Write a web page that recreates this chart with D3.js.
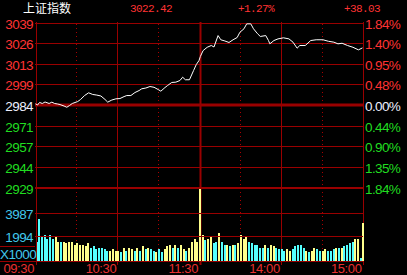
<!DOCTYPE html>
<html>
<head>
<meta charset="utf-8">
<script src="https://cdn.jsdelivr.net/npm/d3@7"></script>
<style>
  body { margin: 0; background: #000; }
  svg { display: block; }
</style>
</head>
<body>
<svg id="chart" width="407" height="275"></svg>
<script>
// 上证指数 分时图
let title = '上证指数'
let lastPrice = '3022.42'
let changePct = '+1.27%'
let changeVal = '+38.03'

let priceTicks = [3039.3, 3025.6, 3011.9, 2998.1, 2984.4, 2970.7, 2956.9, 2943.2, 2929.5]
let priceLabels = ['3039', '3026', '3013', '2999', '2984', '2971', '2957', '2944', '2929']
let pctLabels = ['1.84%', '1.40%', '0.95%', '0.48%', '0.00%', '0.44%', '0.90%', '1.35%', '1.84%']

let volTicks = [3987, 1994]
let volLabels = ['3987', '1994']

let timeLabels = ['09:30', '10:30', '11:30', '14:00', '15:00']
let timeMinutes = [0, 60, 120, 180, 240]
let solidMinutes = [0, 60, 120, 180, 240]
let dottedMinutes = [30, 90, 150, 210]

// minute index (0..240) and price
let priceMin = [0, 1.5, 3, 5, 7, 10, 12, 14, 16, 18, 21, 23, 25, 27, 31, 33, 36, 39, 42, 45,
  48, 51, 53, 56, 59, 62, 65, 67, 70, 73, 76, 78, 81, 84, 87, 90, 92, 95, 97, 100,
  103, 106, 108, 110, 113, 116, 118, 120, 121, 123, 126, 129, 131, 134, 136, 139, 142, 145, 148, 150,
  153, 155, 158, 160, 163, 165, 169, 171, 172, 175, 178, 182, 186, 189, 192, 194, 198, 202, 206, 211,
  215, 219, 222, 225, 229, 233, 237, 240]
let priceVal = [2985.2, 2984.4, 2986.1, 2985.4, 2986.4, 2985.4, 2986.3, 2985.4, 2985.1, 2984.7, 2983.7, 2982.9, 2984.1, 2985.4, 2986.7, 2988.0, 2990.7, 2992.5, 2991.4, 2991.0,
  2990.4, 2988.1, 2986.3, 2987.7, 2988.5, 2988.7, 2990.0, 2990.7, 2990.7, 2992.7, 2994.0, 2995.2, 2995.7, 2996.7, 2996.2, 2994.7, 2993.6, 2996.0, 2997.4, 2999.4,
  2999.6, 3000.7, 3002.9, 3001.2, 3001.2, 3007.3, 3011.3, 3014.0, 3016.7, 3020.6, 3022.8, 3024.0, 3023.0, 3030.6, 3027.8, 3027.0, 3026.0, 3027.8, 3029.3, 3032.8,
  3035.1, 3038.4, 3038.4, 3035.1, 3031.8, 3030.0, 3030.6, 3027.3, 3025.1, 3027.3, 3028.4, 3029.1, 3028.4, 3026.2, 3022.2, 3024.0, 3024.0, 3027.3, 3027.8, 3027.8,
  3026.8, 3026.2, 3025.1, 3025.5, 3024.0, 3022.8, 3021.1, 3022.4]

// volume per 2 minutes (x1000), u = up (yellow), d = down (cyan)
let volVal = [1660, 3490, 2000, 2240, 1910, 2160, 1830, 2000, 1660, 1580,
  1660, 1500, 1660, 1580, 1410, 1500, 1330, 1410, 1250, 1500,
  1160, 1250, 1000, 1080, 1160, 1000, 910, 910, 1000, 910,
  910, 830, 1080, 910, 1160, 1000, 910, 1080, 910, 1250,
  1000, 1160, 1000, 910, 830, 1000, 830, 1000, 1250, 1330,
  1160, 1330, 1160, 1330, 1000, 910, 1160, 1660, 1830, 1660,
  6150, 2160, 1750, 1830, 2000, 1500, 1660, 2330, 1660, 1330,
  1410, 1250, 1410, 1330, 1500, 2240, 1830, 2080, 1660, 1500,
  1410, 1330, 1160, 1160, 1330, 1160, 1330, 1250, 1080, 1000,
  1000, 910, 1000, 910, 1000, 1250, 1330, 1330, 1160, 910,
  830, 910, 1160, 1000, 910, 910, 1000, 910, 910, 1000,
  1080, 1160, 1080, 1250, 1410, 1500, 1660, 1830, 1910, 250,
  3160]
let volDir = 'ddddddd' + 'uu' + 'd' + 'uuuuuuuuuu' + 'ddddddd' + 'uuuu' + 'd' + 'u' + 'd' + 'uu' + 'd' +
  'u' + 'd' + 'u' + 'd' + 'u' + 'dd' + 'u' + 'dd' + 'uuu' + 'd' + 'u' + 'd' + 'uu' + 'd' + 'uuuuuu' +
  'd' + 'uu' + 'dd' + 'u' + 'dd' + 'u' + 'd' + 'u' + 'd' + 'uuuu' + 'dddddd' + 'u' + 'd' + 'uu' +
  'dddd' + 'uu' + 'ddddd' + 'u' + 'd' + 'uu' + 'dd' + 'uu' + 'ddd' + 'u' + 'd' + 'u' + 'dddd' + 'uu' + 'd' + 'u'

let RED = '#ff3333'
let GREEN = '#20dd20'
let CYAN = '#40c8ec'
let GRID = '#990000'
let FONT = '"Liberation Sans", Arial, sans-serif'
let MONO = '"Liberation Mono", "DejaVu Sans Mono", monospace'

let svg = d3.select('#chart')
svg.append('rect').attr('width', 407).attr('height', 275).attr('fill', '#000')

let x = d3.scaleLinear().domain([0, 240]).range([35.5, 362.5])
let yP = d3.scaleLinear().domain([2929.5, 3039.3]).range([187.5, 22.5])
let yV = d3.scaleLinear().domain([0, 3987]).range([261.5, 213.5])
let px = (v) => Math.round(v) + 0.5

// vertical grid
svg.selectAll('line.vs')
    .data(solidMinutes)
    .enter()
    .append('line')
    .attr('x1', (d) => px(x(d)) + (d === 120 ? 1 : 0))
    .attr('x2', (d) => px(x(d)) + (d === 120 ? 1 : 0))
    .attr('y1', 22)
    .attr('y2', 265)
    .attr('stroke', GRID)
    .attr('stroke-width', (d) => d === 120 ? 2 : 1)

svg.selectAll('line.vd')
    .data(dottedMinutes)
    .enter()
    .append('line')
    .attr('x1', (d) => px(x(d)))
    .attr('x2', (d) => px(x(d)))
    .attr('y1', 24)
    .attr('y2', 261)
    .attr('stroke', '#aa0000')
    .attr('stroke-dasharray', '1,3')

// volume bars
let volData = volVal.map((v, i) => ({ m: i * 2, v: v, dir: volDir[i] }))
svg.selectAll('rect.vol')
    .data(volData)
    .enter()
    .append('rect')
    .attr('x', (d) => Math.round(x(d.m)) - (d.m === 240 ? 1 : 0) + (d.m === 0 ? 1 : 0))
    .attr('width', 2)
    .attr('y', (d) => Math.round(yV(d.v)))
    .attr('height', (d) => 261 - Math.round(yV(d.v)))
    .attr('fill', (d) => d.dir === 'u' ? '#ffff8c' : '#55ffff')

// horizontal grid, price part
svg.selectAll('line.hp')
    .data(priceTicks)
    .enter()
    .append('line')
    .attr('x1', 35)
    .attr('x2', 363)
    .attr('y1', (d, i) => i === 4 || i === 8 ? Math.round(yP(d)) : px(yP(d)))
    .attr('y2', (d, i) => i === 4 || i === 8 ? Math.round(yP(d)) : px(yP(d)))
    .attr('stroke', GRID)
    .attr('stroke-width', (d, i) => i === 4 ? 3 : i === 8 ? 2 : 1)

// horizontal grid, volume part
svg.selectAll('line.hv')
    .data(volTicks)
    .enter()
    .append('line')
    .attr('x1', 35)
    .attr('x2', 363)
    .attr('y1', (d) => px(yV(d)) - 1)
    .attr('y2', (d) => px(yV(d)) - 1)
    .attr('stroke', GRID)

// bottom line and X1000 box
svg.append('line').attr('x1', 0).attr('x2', 363).attr('y1', 261.5).attr('y2', 261.5).attr('stroke', GRID)
svg.append('line').attr('x1', 0).attr('x2', 35).attr('y1', 246.5).attr('y2', 246.5).attr('stroke', GRID)

// price line
let line = d3.line()
    .x((d) => x(d[0]))
    .y((d) => yP(d[1]))
svg.append('path')
    .datum(priceMin.map((m, i) => [m, priceVal[i]]))
    .attr('d', line)
    .attr('fill', 'none')
    .attr('stroke', '#ffffff')
    .attr('stroke-width', 1)

// labels
let tickColor = (i) => i < 4 ? RED : i === 4 ? '#eef0ff' : GREEN

svg.selectAll('text.pl')
    .data(priceTicks)
    .enter()
    .append('text')
    .attr('x', 33)
    .attr('y', (d) => yP(d) + 6)
    .attr('text-anchor', 'end')
    .attr('font-family', FONT)
    .attr('font-size', 13.5)
    .attr('letter-spacing', -0.6)
    .attr('fill', (d, i) => tickColor(i))
    .text((d, i) => priceLabels[i])

svg.selectAll('text.pr')
    .data(priceTicks)
    .enter()
    .append('text')
    .attr('x', 365)
    .attr('y', (d) => yP(d) + 6)
    .attr('font-family', FONT)
    .attr('font-size', 13.5)
    .attr('letter-spacing', -0.6)
    .attr('fill', (d, i) => tickColor(i))
    .text((d, i) => pctLabels[i])

svg.selectAll('text.vl')
    .data(volTicks)
    .enter()
    .append('text')
    .attr('x', 33)
    .attr('y', (d) => yV(d) + 5)
    .attr('text-anchor', 'end')
    .attr('font-family', FONT)
    .attr('font-size', 13.5)
    .attr('letter-spacing', -0.6)
    .attr('fill', CYAN)
    .text((d, i) => volLabels[i])

svg.append('text')
    .attr('x', 0).attr('y', 259)
    .attr('font-family', FONT).attr('font-size', 13.5).attr('letter-spacing', -0.6)
    .attr('fill', CYAN)
    .text('X1000')

svg.selectAll('text.time')
    .data(timeMinutes)
    .enter()
    .append('text')
    .attr('x', (d) => d === 0 ? 34 : x(d) - 1)
    .attr('y', 272.5)
    .attr('text-anchor', 'end')
    .attr('font-family', FONT)
    .attr('font-size', 13)
    .attr('letter-spacing', -0.4)
    .attr('fill', '#e83030')
    .text((d, i) => timeLabels[i])

// header
svg.append('text')
    .attr('x', 23).attr('y', 13)
    .attr('font-family', '"Noto Sans CJK SC", sans-serif').attr('font-size', 12)
    .attr('fill', '#ffffff')
    .text(title)

let header = [[130, lastPrice], [238, changePct], [344, changeVal]]
svg.selectAll('text.head')
    .data(header)
    .enter()
    .append('text')
    .attr('x', (d) => d[0])
    .attr('y', 12)
    .attr('font-family', MONO)
    .attr('font-size', 11)
    .attr('letter-spacing', -0.6)
    .attr('fill', RED)
    .text((d) => d[1])
</script>
</body>
</html>
